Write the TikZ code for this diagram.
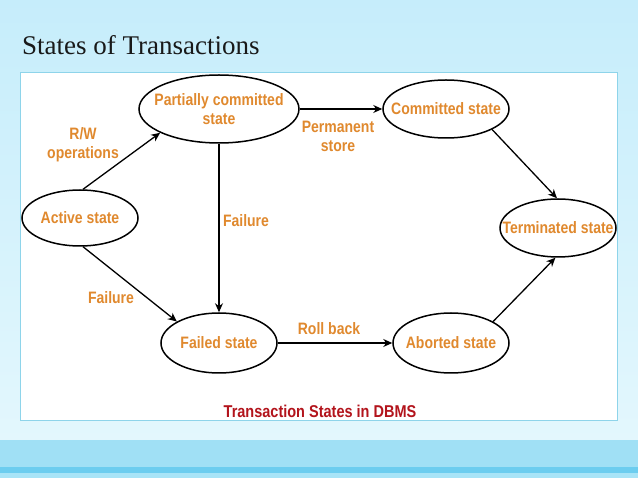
\documentclass[tikz,border=0pt]{standalone}
\usepackage{fontspec}
\usepackage{graphicx}
\setmainfont{Liberation Serif}
\newfontfamily\arialf{Liberation Sans}
\usetikzlibrary{arrows.meta,shapes.geometric}
\definecolor{txtorange}{HTML}{E0892E}
\definecolor{capred}{HTML}{B3141C}
\definecolor{bgtop}{HTML}{C6EDFB}
\definecolor{bgbot}{HTML}{E3F7FD}
\definecolor{bandA}{HTML}{A0E0F5}
\definecolor{bandB}{HTML}{6CCDEF}
\definecolor{bandC}{HTML}{A8E4F7}
\definecolor{panelborder}{HTML}{8ED4EA}
\newcommand{\stx}[1]{\scalebox{1}[1.18]{#1}}
\tikzset{
  statenode/.style={ellipse, draw=black, line width=1.5pt, fill=white, inner sep=0pt},
  statetext/.style={text=txtorange, font=\arialf\bfseries\fontsize{14}{19}\selectfont, align=center, inner sep=0pt},
  edgelabel/.style={text=txtorange, font=\arialf\bfseries\fontsize{14}{19}\selectfont, align=center, inner sep=0pt},
  arr/.style={-{Stealth[length=9pt,width=8pt]}, line width=1.3pt, black}
}
\begin{document}
\begin{tikzpicture}[x=1pt,y=-1pt]
\useasboundingbox (0,0) rectangle (638,478);
% background
\shade[top color=bgtop, bottom color=bgbot] (0,0) rectangle (638,440);
\fill[bandA] (0,440) rectangle (638,467);
\fill[bandB] (0,467) rectangle (638,473);
\fill[bandC] (0,473) rectangle (638,478);
% title
\node[anchor=base west, inner sep=0pt, font=\fontsize{27}{30}\selectfont, text=black!90] (title) at (22,55) {States of Transactions};
% panel
\draw[panelborder, fill=white, line width=1pt] (20,73) rectangle (617,421);
% states
\node[statenode, minimum width=160pt, minimum height=68pt] (pc) at (219,109) {};
\node[statenode, minimum width=116pt, minimum height=56pt] (act) at (80,218) {};
\node[statenode, minimum width=126pt, minimum height=58pt] (com) at (446,109) {};
\node[statenode, minimum width=116pt, minimum height=58pt] (term) at (558,228) {};
\node[statenode, minimum width=116pt, minimum height=60pt] (fail) at (219,343) {};
\node[statenode, minimum width=116pt, minimum height=60pt] (abo) at (451,343) {};
\node[statetext] (pct) at (pc) {\stx{Partially committed}\\\stx{state}};
\node[statetext] (actt) at (act) {\stx{Active state}};
\node[statetext] (comt) at (com) {\stx{Committed state}};
\node[statetext] (termt) at (term) {\stx{Terminated state}};
\node[statetext] (failt) at (fail) {\stx{Failed state}};
\node[statetext] (abot) at (abo) {\stx{Aborted state}};
% edges
\draw[arr] (act.84) -- (pc.202);
\draw[arr] (pc.east) -- (com.west);
\draw[arr] (pc.south) -- (fail.north);
\draw[arr] (act.276) -- (fail.153);
\draw[arr] (com.336) -- (term.92);
\draw[arr] (fail.east) -- (abo.west);
\draw[arr] (abo.27) -- (term.265);
% labels
\node[edgelabel] (rw) at (83,145) {\stx{R/W}\\\stx{operations}};
\node[edgelabel] (perm) at (338,136) {\stx{Permanent}\\\stx{store}};
\node[edgelabel] (f1) at (246,221) {\stx{Failure}};
\node[edgelabel] (f2) at (111,298) {\stx{Failure}};
\node[edgelabel] (roll) at (329,329) {\stx{Roll back}};
\node[text=capred, font=\arialf\bfseries\fontsize{14.5}{17}\selectfont, inner sep=0pt] (cap) at (320,411) {\stx{Transaction States in DBMS}};
\end{tikzpicture}
\end{document}
